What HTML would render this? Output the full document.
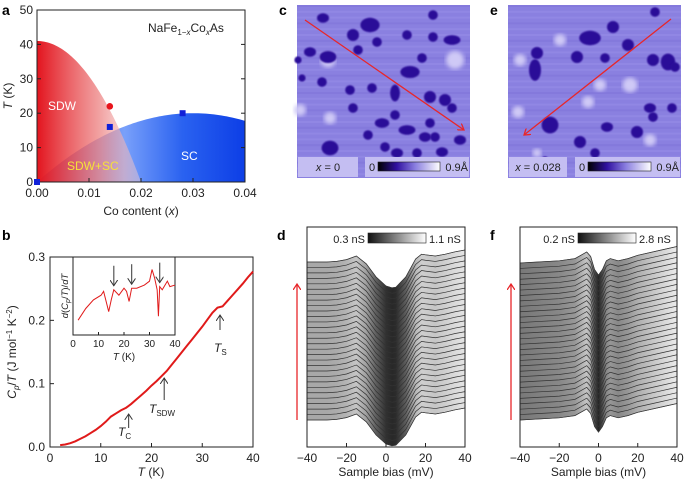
<!DOCTYPE html>
<html><head><meta charset="utf-8"><style>
html,body{margin:0;padding:0;background:#fff;}
svg{display:block;font-family:"Liberation Sans",sans-serif;}
</style></head><body>
<svg id="fig" width="685" height="482" viewBox="0 0 685 482">
<defs>
<linearGradient id="redG" gradientUnits="userSpaceOnUse" x1="37" y1="0" x2="141" y2="0">
<stop offset="0" stop-color="#e3141e" stop-opacity="1"/><stop offset="0.6" stop-color="#ee8a8a" stop-opacity="0.8"/><stop offset="1" stop-color="#f6d0d0" stop-opacity="0.45"/></linearGradient>
<linearGradient id="blueG" gradientUnits="userSpaceOnUse" x1="37" y1="0" x2="245" y2="0">
<stop offset="0" stop-color="#2540c8"/><stop offset="0.42" stop-color="#79a0fa"/><stop offset="0.7" stop-color="#2a62f0"/><stop offset="1" stop-color="#0d3ee6"/></linearGradient>
<linearGradient id="cbC" x1="0" x2="1"><stop offset="0" stop-color="#000"/><stop offset="0.3" stop-color="#3010a0"/><stop offset="0.6" stop-color="#8a7ee0"/><stop offset="1" stop-color="#fff"/></linearGradient>
<linearGradient id="cbG" x1="0" x2="1"><stop offset="0" stop-color="#111"/><stop offset="1" stop-color="#fff"/></linearGradient>
<filter id="blur1"><feGaussianBlur stdDeviation="0.8"/></filter>
<filter id="blur2"><feGaussianBlur stdDeviation="2"/></filter>
<marker id="ahR" markerWidth="8" markerHeight="8" refX="6" refY="4" orient="auto" markerUnits="userSpaceOnUse"><path d="M0,0 L6,4 L0,8" fill="none" stroke="#e8262a" stroke-width="1.3"/></marker>
<marker id="ahK" markerWidth="8" markerHeight="8" refX="6" refY="4" orient="auto" markerUnits="userSpaceOnUse"><path d="M0,0 L6,4 L0,8" fill="none" stroke="#333" stroke-width="1"/></marker>
</defs>
<g id="pa"></g>
<g id="pb"></g>
<g id="pc"></g>
<g id="pe"></g>
<g id="pd"></g>
<g id="pf"></g>
</svg>
<script>
// ---- Panel a data
const aPoints = [[0.014,22,'circle'],[0.014,16,'square'],[0.028,20,'square'],[0.0,0,'square']];
const aXTicks = [0,0.01,0.02,0.03,0.04];
const aXTickLabels = ['0.00','0.01','0.02','0.03','0.04'];
const aYTicks = [0,10,20,30,40,50];
const sdwTN0 = 41, sdwXEnd = 0.02;
const scTcMax = 20, scXPeak = 0.03;
// ---- Panel b data
const bT = [2,3,4,5,6,7,8,9,10,11,12,13,14,15,16,17,18,19,20,21,22,23,24,25,26,27,28,29,30,31,32,33,34,35,36,37,38,39,40];
const bC = [0.003,0.004,0.006,0.009,0.013,0.017,0.022,0.027,0.033,0.040,0.048,0.053,0.058,0.062,0.068,0.075,0.082,0.089,0.097,0.104,0.112,0.120,0.130,0.140,0.150,0.160,0.170,0.180,0.190,0.201,0.212,0.220,0.222,0.231,0.240,0.249,0.258,0.268,0.277];
const bXTicks = [0,10,20,30,40];
const bYTicks = [0,0.1,0.2,0.3];
const bYTickLabels = ['0.0','0.1','0.2','0.3'];
const insT = [2,5,8,11,12,14,15,16,18,20,21,22,23,25,28,30,31,32,33,33.5,34,35,37,38,40];
const insD = [0.19,0.34,0.45,0.51,0.56,0.30,0.45,0.58,0.51,0.60,0.56,0.43,0.60,0.60,0.64,0.69,0.84,0.73,0.58,0.24,0.62,0.58,0.69,0.62,0.64];
const insArrowsT = [16,23,34];
const insXTicks = [0,10,20,30,40];
// ---- Panel d / f data
const dBias = [-40,-35,-30,-25,-20,-15,-10,-5,0,3,5,10,15,18,20,25,30,35,40];
const dG = [0.75,0.75,0.75,0.76,0.79,0.85,0.72,0.50,0.35,0.32,0.33,0.50,0.80,0.88,0.87,0.85,0.88,0.92,0.95];
const fBias = [-40,-30,-20,-12,-8,-6,-4,-2,0,2,4,6,8,10,15,20,30,40];
const fG = [1.0,1.05,1.1,1.2,1.4,1.5,1.3,0.7,0.45,0.7,1.1,1.2,1.15,1.1,1.2,1.35,1.55,1.75];
const nCurves = 30;
const biasTicks = [-40,-20,0,20,40];

const NS='http://www.w3.org/2000/svg';
function el(parent,tag,attrs,txt){const e=document.createElementNS(NS,tag);for(const k in attrs)e.setAttribute(k,attrs[k]);if(txt!==undefined)e.textContent=txt;parent.appendChild(e);return e;}
function lin(d0,d1,r0,r1){return v=>r0+(v-d0)/(d1-d0)*(r1-r0);}

// ================= Panel a
(function(){
const g=document.getElementById('pa');
const X=lin(0,0.04,37,245), Y=lin(0,50,182,10);
let t=el(g,'text',{x:2,y:15,'font-size':14,'font-weight':'bold'},'a');

let d='M'+X(0)+','+Y(0);
for(let i=0;i<=80;i++){const x=0.04*i/80;d+=' L'+X(x)+','+Y(scTcMax*(1-Math.pow((x-scXPeak)/scXPeak,2)));}
d+=' L'+X(0.04)+','+Y(0)+' Z';
let p=el(g,'path',{d:d,fill:'url(#blueG)'});

d='M'+X(0)+','+Y(0)+' L'+X(0)+','+Y(sdwTN0);
for(let i=0;i<=60;i++){const x=sdwXEnd*i/60;d+=' L'+X(x)+','+Y(sdwTN0*(1-Math.pow(x/sdwXEnd,2)));}
d+=' Z';
p=el(g,'path',{d:d,fill:'url(#redG)'});

el(g,'rect',{x:37,y:10,width:208,height:172,fill:'none',stroke:'#222','stroke-width':1});
aXTicks.forEach((v,i)=>{el(g,'line',{x1:X(v),x2:X(v),y1:182,y2:178,stroke:'#222'});
 const tt=el(g,'text',{x:X(v),y:197,'font-size':12,'text-anchor':'middle',fill:'#222'},aXTickLabels[i]);
 });
aYTicks.forEach(v=>{el(g,'line',{x1:37,x2:41,y1:Y(v),y2:Y(v),stroke:'#222'});el(g,'line',{x1:245,x2:241,y1:Y(v),y2:Y(v),stroke:'#222'});
 const tt=el(g,'text',{x:33,y:Y(v)+4,'font-size':12,'text-anchor':'end',fill:'#222'},v);
 });
t=el(g,'text',{x:141,y:215,'font-size':12,'text-anchor':'middle',fill:'#222'});t.innerHTML='Co content (<tspan font-style="italic">x</tspan>)';

t=el(g,'text',{x:0,y:0,'font-size':12,'text-anchor':'middle',fill:'#222',transform:'translate(12,96) rotate(-90)'});t.innerHTML='<tspan font-style="italic">T</tspan> (K)';

t=el(g,'text',{x:148,y:32,'font-size':12,fill:'#222'});t.innerHTML='NaFe<tspan font-size="8" dy="3">1−<tspan font-style="italic">x</tspan></tspan><tspan dy="-3">Co</tspan><tspan font-size="8" dy="3" font-style="italic">x</tspan><tspan dy="-3">As</tspan>';

t=el(g,'text',{x:48,y:110,'font-size':12,fill:'#fff'},'SDW');
t=el(g,'text',{x:67,y:170,'font-size':12,fill:'#f5e23a'},'SDW+SC');
t=el(g,'text',{x:181,y:160,'font-size':12,fill:'#fff'},'SC');
aPoints.forEach(pt=>{let m;
 if(pt[2]==='circle'){m=el(g,'circle',{cx:X(pt[0]),cy:Y(pt[1]),r:3.3,fill:'#e8141c'});}
 else{m=el(g,'rect',{x:X(pt[0])-3,y:Y(pt[1])-3,width:6,height:6,fill:'#1020d8'});}
 });
})();

// ================= Panel b
(function(){
const g=document.getElementById('pb');
const X=lin(0,40,50,253), Y=lin(0,0.3,447,257);
let t=el(g,'text',{x:2,y:240,'font-size':14,'font-weight':'bold'},'b');

el(g,'rect',{x:50,y:257,width:203,height:190,fill:'none',stroke:'#222'});
bXTicks.forEach(v=>{el(g,'line',{x1:X(v),x2:X(v),y1:447,y2:443,stroke:'#222'});
 const tt=el(g,'text',{x:X(v),y:462,'font-size':12,'text-anchor':'middle',fill:'#222'},v);
 });
bYTicks.forEach((v,i)=>{el(g,'line',{x1:50,x2:54,y1:Y(v),y2:Y(v),stroke:'#222'});
 const tt=el(g,'text',{x:45,y:Y(v)+4,'font-size':12,'text-anchor':'end',fill:'#222'},bYTickLabels[i]);
 });
t=el(g,'text',{x:151,y:476,'font-size':12,'text-anchor':'middle',fill:'#222'});t.innerHTML='<tspan font-style="italic">T</tspan> (K)';

t=el(g,'text',{x:0,y:0,'font-size':12,'text-anchor':'middle',fill:'#222',transform:'translate(16,352) rotate(-90)'});
t.innerHTML='<tspan font-style="italic">C</tspan><tspan font-size="8" dy="3" font-style="italic">p</tspan><tspan dy="-3">/</tspan><tspan font-style="italic">T</tspan> (J mol<tspan font-size="8" dy="-4">−1</tspan><tspan dy="4"> K</tspan><tspan font-size="8" dy="-4">−2</tspan><tspan dy="4">)</tspan>';

let pts=bT.map((v,i)=>X(v)+','+Y(bC[i])).join(' ');
let pl=el(g,'polyline',{points:pts,fill:'none',stroke:'#e01a1a','stroke-width':2});

function arr(x,y1,y2,name){const a=el(g,'line',{x1:x,x2:x,y1:y1,y2:y2,stroke:'#333','stroke-width':1,'marker-end':'url(#ahK)'});
 }
arr(X(15.5),428,414,'tc-arrow');arr(X(22.5),400,378,'tsdw-arrow');arr(X(33.5),330,315,'ts-arrow');
t=el(g,'text',{x:118,y:436,'font-size':12,fill:'#222'});t.innerHTML='<tspan font-style="italic">T</tspan><tspan font-size="8" dy="3">C</tspan>';

t=el(g,'text',{x:149,y:413,'font-size':12,fill:'#222'});t.innerHTML='<tspan font-style="italic">T</tspan><tspan font-size="8" dy="3">SDW</tspan>';

t=el(g,'text',{x:214,y:352,'font-size':12,fill:'#222'});t.innerHTML='<tspan font-style="italic">T</tspan><tspan font-size="8" dy="3">S</tspan>';

const IX=lin(0,40,73,175), IY=lin(0,1,335,257);
el(g,'rect',{x:73,y:257,width:102,height:78,fill:'#fff',stroke:'#222'});
insXTicks.forEach(v=>{el(g,'line',{x1:IX(v),x2:IX(v),y1:335,y2:332,stroke:'#222'});
 const tt=el(g,'text',{x:IX(v),y:347,'font-size':10,'text-anchor':'middle',fill:'#222'},v);
 });
t=el(g,'text',{x:124,y:360,'font-size':10,'text-anchor':'middle',fill:'#222'});t.innerHTML='<tspan font-style="italic">T</tspan> (K)';

t=el(g,'text',{x:0,y:0,'font-size':9.5,'text-anchor':'middle',fill:'#222',transform:'translate(68,296) rotate(-90)'});
t.innerHTML='<tspan font-style="italic">d</tspan>(<tspan font-style="italic">C</tspan><tspan font-size="7" dy="2" font-style="italic">p</tspan><tspan dy="-2">/</tspan><tspan font-style="italic">T</tspan>)/<tspan font-style="italic">dT</tspan>';

pts=insT.map((v,i)=>IX(v)+','+IY(insD[i])).join(' ');
pl=el(g,'polyline',{points:pts,fill:'none',stroke:'#e01a1a','stroke-width':1});

insArrowsT.forEach(v=>{let yv=0;for(let i=0;i<insT.length;i++){if(insT[i]>=v){yv=insD[i];break;}}
 const a=el(g,'line',{x1:IX(v),x2:IX(v),y1:IY(yv)-24,y2:IY(yv)-4,stroke:'#555','stroke-width':1.2,'marker-end':'url(#ahK)'});
 });
})();

// ================= Panels c, e (topography)
const cSpots=[[370,25,8,6],[323,18,5,4],[353,35,5,5],[407,35,4,4],[433,15,4,4],[433,37,4,4],[452,40,7,4],[377,42,4,4],[310,52,5,4],[328,57,7,5],[358,50,4,4],[422,58,4,4],[410,72,8,5],[322,82,4,4],[350,90,4,4],[372,88,4,4],[395,93,4,7],[430,97,5,5],[445,100,5,5],[452,108,4,4],[353,108,4,4],[395,115,4,4],[382,123,6,4],[407,130,7,4],[430,123,4,4],[368,135,4,4],[425,137,5,4],[435,137,4,4],[460,140,5,4],[330,148,7,6],[385,147,4,4],[397,153,5,4],[417,153,4,4],[442,152,5,4],[302,78,3,3],[298,60,3,3]];
const eSpots=[[655,12,4,4],[613,27,5,5],[590,38,9,6],[537,53,5,5],[577,57,5,5],[605,58,4,4],[628,45,5,5],[653,60,5,5],[668,62,6,7],[535,70,5,9],[675,67,4,4],[650,108,5,4],[653,117,4,4],[672,108,4,4],[607,127,5,4],[637,132,5,5],[550,125,7,7],[580,142,5,5],[595,153,4,4],[545,160,3,3]];
const eLight=[[518,112,4],[588,102,4],[537,153,3],[560,40,4],[630,85,5],[520,60,4],[600,85,4],[650,140,4]];
function topo(id,x0,label,xlab,spots,lights,arrow,cbx,boxw){
 const g=document.getElementById(id);
 let t=el(g,'text',{x:x0-18,y:15,'font-size':14,'font-weight':'bold'},label);
 
 el(g,'rect',{x:x0,y:5,width:173,height:173,fill:'#8a80e0'});
 for(let k=0;k<30;k++){el(g,'rect',{x:x0,y:5+k*5.8,width:173,height:2,fill:(k%3?'#9a91e8':'#7d72d8'),opacity:0.45});}
 lights.forEach(s=>{el(g,'circle',{cx:s[0],cy:s[1],r:s[2]*1.5,fill:'#cfc9f6',filter:'url(#blur2)'});});
 spots.forEach(s=>{const sp=el(g,'ellipse',{cx:s[0],cy:s[1],rx:s[2]*1.2,ry:s[3]*1.2,fill:'#2a0a98',filter:'url(#blur1)'});
  });
 let a=el(g,'line',{x1:arrow[0],y1:arrow[1],x2:arrow[2],y2:arrow[3],stroke:'#e8262a','stroke-width':1.3,'marker-end':'url(#ahR)'});
 
 el(g,'rect',{x:x0+1,y:157,width:boxw,height:20,fill:'#c4bef2'});
 t=el(g,'text',{x:x0+1+boxw/2,y:171,'font-size':11,'text-anchor':'middle',fill:'#222'});t.innerHTML='<tspan font-style="italic">x</tspan> = '+xlab;
 
 el(g,'rect',{x:cbx,y:157,width:x0+172-cbx,height:20,fill:'#c4bef2'});
 el(g,'text',{x:cbx+4,y:171,'font-size':11,fill:'#222'},'0');
 const cb=el(g,'rect',{x:cbx+13,y:162,width:x0+172-cbx-42,height:9,fill:'url(#cbC)',stroke:'#222','stroke-width':0.6});
 
 el(g,'text',{x:x0+171,y:171,'font-size':11,'text-anchor':'end',fill:'#222'},'0.9Å');
}
topo('pc',297,'c','0',cSpots,[[328,60,5],[455,60,6],[300,110,4],[330,118,4]],[305,20,464,130],365,60);
topo('pe',508,'e','0.028',eSpots,eLight,[671,19,524,135],575,58);

// ================= Panels d, f (waterfall)
function waterfall(id,label,x0,x1,bias,G,scale,gMin,gMax,baseTop,baseBot,cbLeft,cbRight,arrowX){
 const g=document.getElementById(id);
 const X=lin(-40,40,x0,x1);
 let t=el(g,'text',{x:x0-30,y:240,'font-size':14,'font-weight':'bold'},label);
 
 const gid='wg'+id;
 const defs=el(g,'defs',{});
 const lg=el(defs,'linearGradient',{id:gid,gradientUnits:'userSpaceOnUse',x1:x0,y1:0,x2:x1,y2:0});
 bias.forEach((b,i)=>{const f=Math.max(0,Math.min(1,(G[i]-gMin)/(gMax-gMin)));const c=Math.round(28+f*215);
  el(lg,'stop',{offset:((b+40)/80).toFixed(4),'stop-color':'rgb('+c+','+c+','+c+')'});});
 const step=(baseBot-baseTop)/(nCurves-1);
 const curveY=(k,i)=>baseTop+k*step-scale*G[i];
 let d='M'+bias.map((b,i)=>X(b)+','+curveY(0,i)).join(' L');
 for(let i=bias.length-1;i>=0;i--) d+=' L'+X(bias[i])+','+curveY(nCurves-1,i);
 d+=' Z';
 const fill=el(g,'path',{d:d,fill:'url(#'+gid+')',stroke:'#666','stroke-width':0.6});
 
 for(let k=0;k<nCurves;k++){
  const pts=bias.map((b,i)=>X(b)+','+curveY(k,i)).join(' ');
  const pl=el(g,'polyline',{points:pts,fill:'none',stroke:'#333','stroke-width':0.7});
  
 }
 el(g,'rect',{x:x0,y:227,width:x1-x0,height:220,fill:'none',stroke:'#222'});
 biasTicks.forEach(v=>{el(g,'line',{x1:X(v),x2:X(v),y1:447,y2:443,stroke:'#222'});
  const tt=el(g,'text',{x:X(v),y:462,'font-size':12,'text-anchor':'middle',fill:'#222'},v<0?'−'+(-v):v);
  });
 t=el(g,'text',{x:(x0+x1)/2,y:476,'font-size':12,'text-anchor':'middle',fill:'#222'},'Sample bias (mV)');
 
 const a=el(g,'line',{x1:arrowX,x2:arrowX,y1:420,y2:284,stroke:'#e8262a','stroke-width':1.3,'marker-end':'url(#ahR)'});
 
 const cbx=x0+ (label==='d'?61:58);
 el(g,'text',{x:cbx-3,y:243,'font-size':11,'text-anchor':'end',fill:'#222'},cbLeft);
 const cb=el(g,'rect',{x:cbx,y:233,width:58,height:10,fill:'url(#cbG)',stroke:'#222','stroke-width':0.6});
 
 el(g,'text',{x:cbx+61,y:243,'font-size':11,fill:'#222'},cbRight);
}
waterfall('pd','d',307,465,dBias,dG,60,0.28,1.0,307,465,'0.3 nS','1.1 nS',297);
waterfall('pf','f',520,677,fBias,fG,22,0.4,1.8,285,442,'0.2 nS','2.8 nS',511);
</script>
</body></html>
